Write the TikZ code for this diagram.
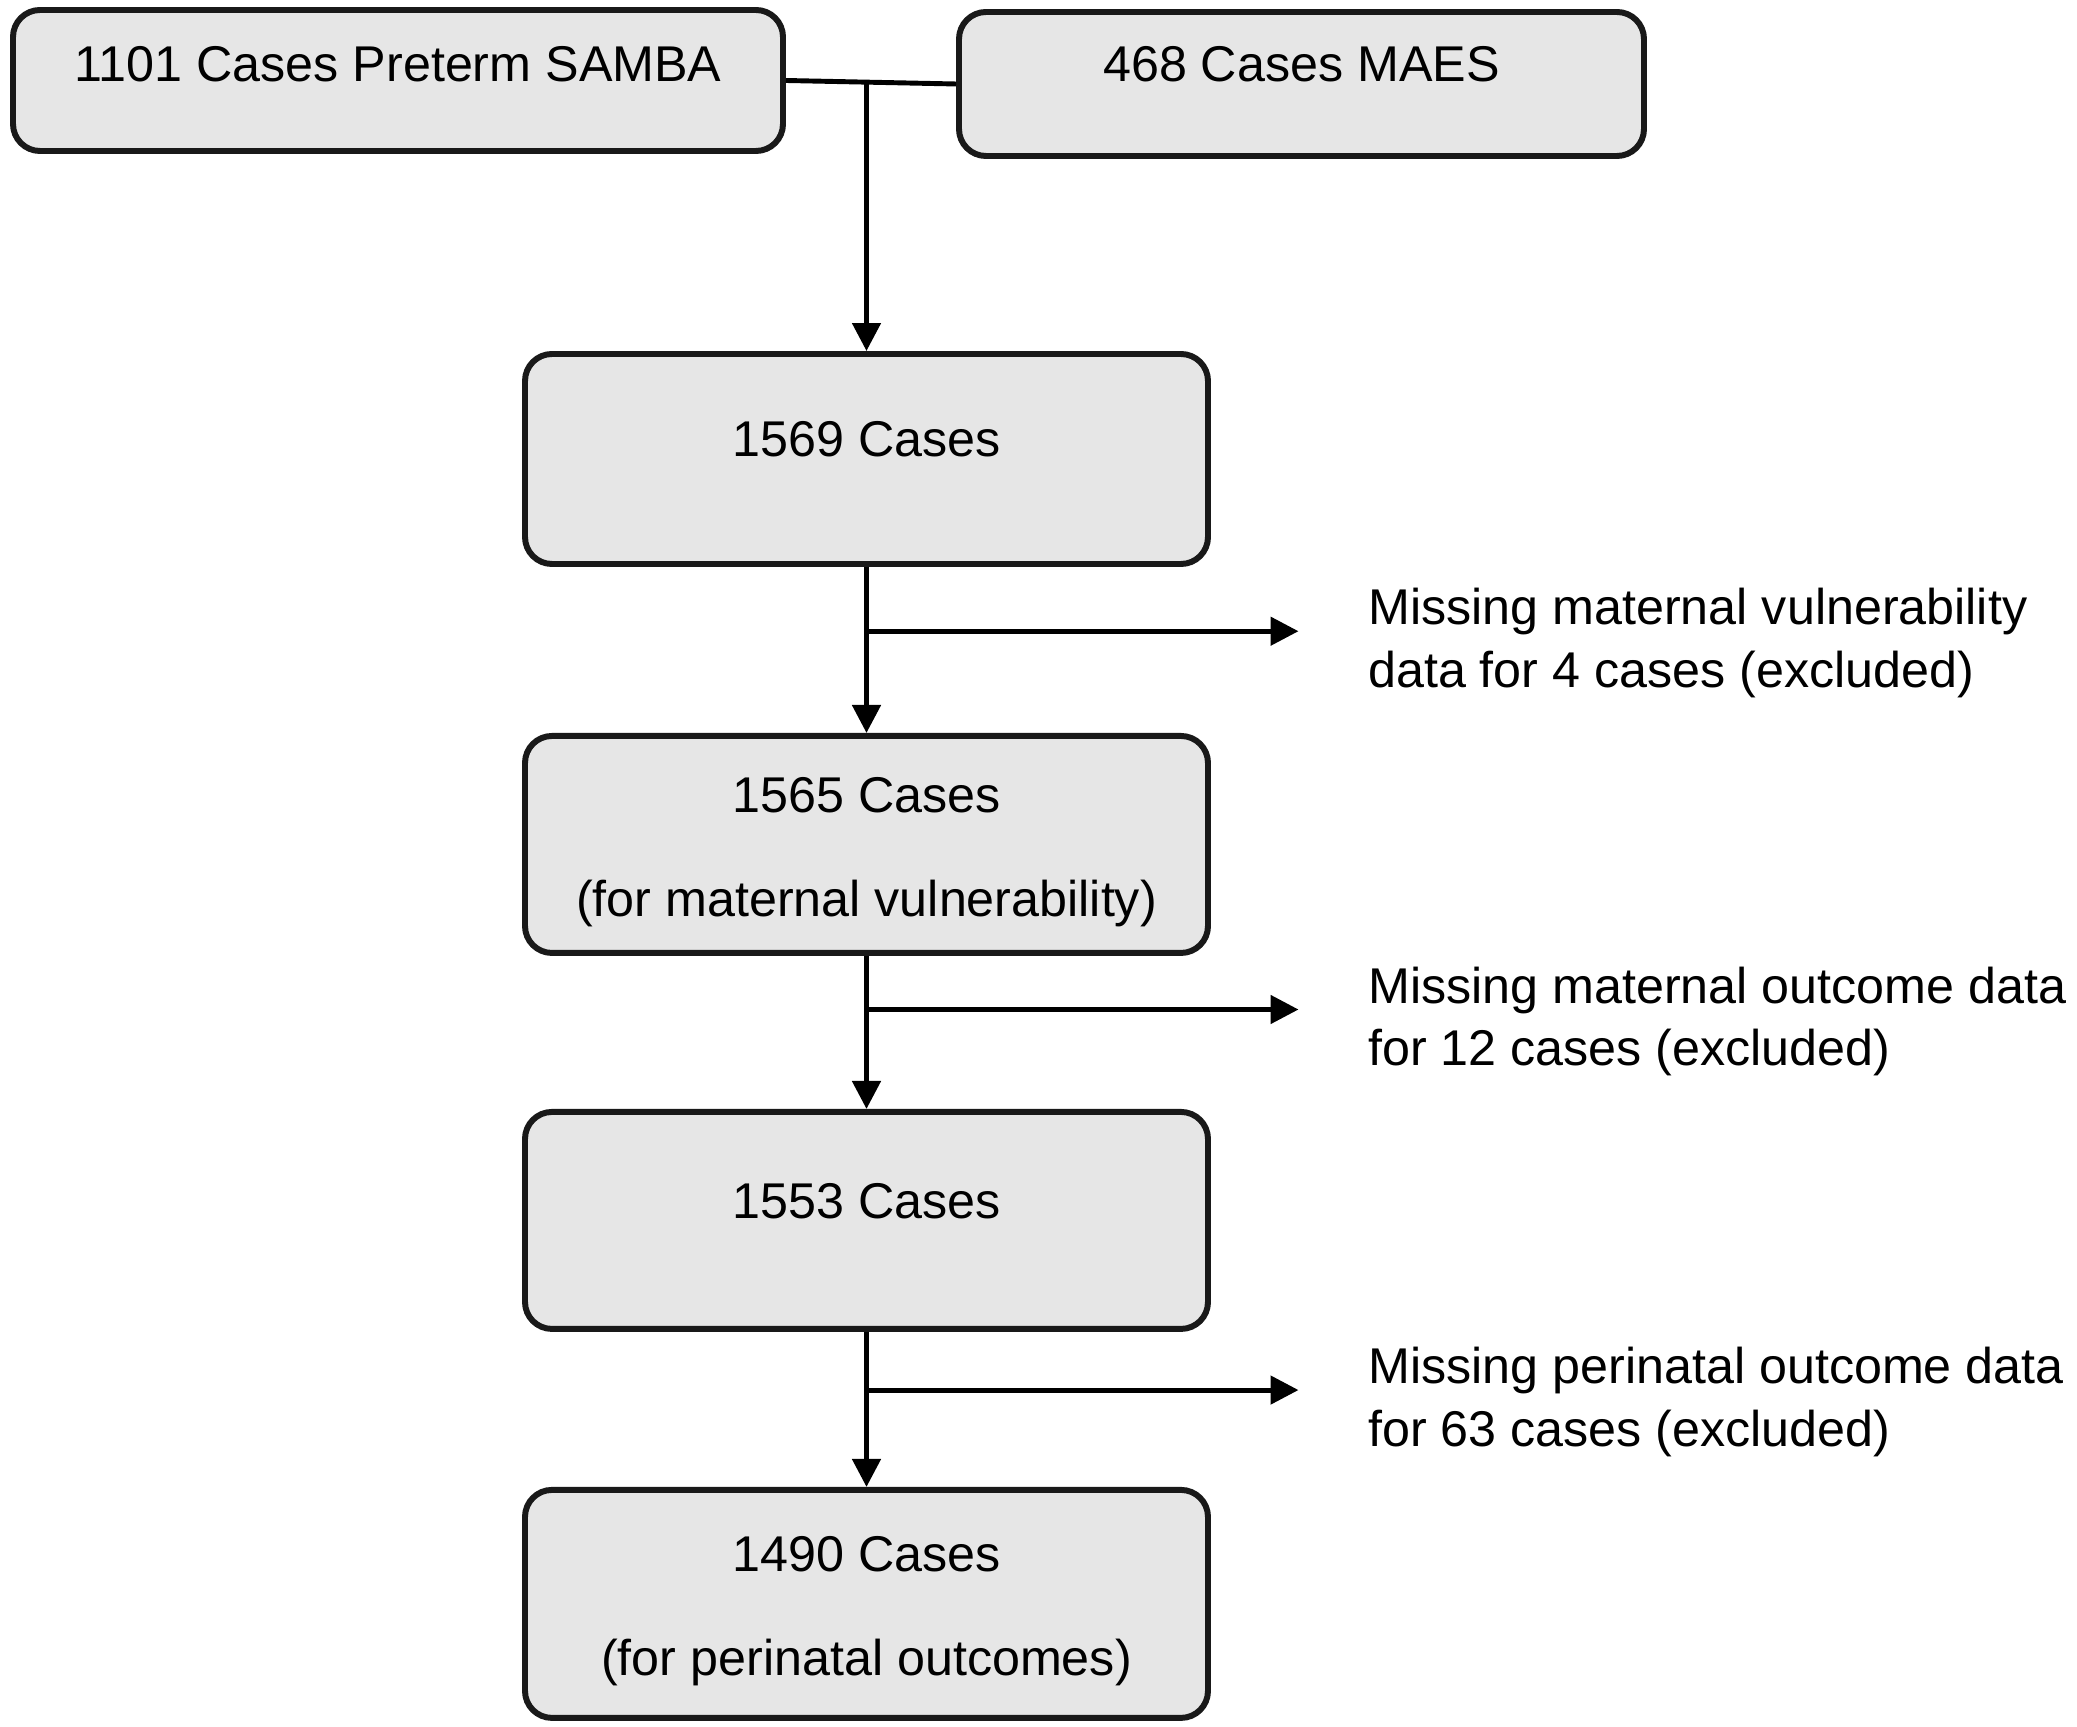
\documentclass[tikz,border=0pt]{standalone}
\usepackage{fontspec}
\setmainfont{Liberation Sans}
\usetikzlibrary{arrows.meta, positioning, calc}
\definecolor{boxgray}{RGB}{230,230,230}
\tikzset{
  casebox/.style={
    rectangle, rounded corners=0.27cm,
    draw=black!90, fill=boxgray, line width=1.7pt,
    align=center, font=\fontsize{14.3}{17.9}\selectfont,
    inner sep=0pt, minimum width=6.83cm
  },
  onebox/.style={casebox, text height=10.2pt, text depth=11.4pt},
  twobox/.style={casebox, text height=43.7pt},
  srcbox/.style={casebox, text height=10.2pt, text depth=9.6pt},
  notetext/.style={align=left, inner sep=0pt, font=\fontsize{14.3}{17.9}\selectfont},
  flowarrow/.style={-{Triangle[length=0.28cm, width=0.28cm]}, line width=1.4pt, black},
  flowline/.style={line width=1.4pt, black}
}

\begin{document}
\begin{tikzpicture}
    \useasboundingbox (0,0) rectangle (20.77,-17.27);
    % sources
    \node[srcbox, minimum width=7.70cm, minimum height=1.41cm] (samba) at (3.98,-0.805) {1101 Cases Preterm SAMBA};
    \node[srcbox, text depth=11.8pt, minimum width=6.85cm, minimum height=1.44cm] (maes) at (13.015,-0.84) {468 Cases MAES};
    % main chain
    \node[onebox, minimum height=2.10cm] (c1569) at (8.665,-4.59) {1569 Cases};
    \node[twobox, minimum height=2.17cm, below=1.66cm of c1569] (c1565) {1565 Cases\\[11.6pt](for maternal vulnerability)};
    \node[onebox, minimum height=2.17cm, below=1.53cm of c1565] (c1553) {1553 Cases};
    \node[twobox, minimum height=2.28cm, below=1.55cm of c1553] (c1490) {1490 Cases\\[11.6pt](for perinatal outcomes)};
    % merge
    \coordinate (join) at (c1569.north |- samba.east);
    \draw[flowline] (samba.east) -- (maes.west);
    \draw[flowarrow] (join) -- (c1569.north);
    \draw[flowarrow] (c1569.south) -- (c1565.north);
    \draw[flowarrow] (c1565.south) -- (c1553.north);
    \draw[flowarrow] (c1553.south) -- (c1490.north);
    % exclusions
    \coordinate (b1) at ($(c1569.south)!0.387!(c1565.north)$);
    \coordinate (b2) at ($(c1565.south)!0.35!(c1553.north)$);
    \coordinate (b3) at ($(c1553.south)!0.375!(c1490.north)$);
    \coordinate (e1) at ([xshift=4.32cm]b1);
    \coordinate (e2) at ([xshift=4.32cm]b2);
    \coordinate (e3) at ([xshift=4.32cm]b3);
    \draw[flowarrow] (b1) -- (e1);
    \draw[flowarrow] (b2) -- (e2);
    \draw[flowarrow] (b3) -- (e3);
    \node[notetext, right=0.69cm of e1, yshift=-0.12cm] (x1) {Missing maternal vulnerability\\data for 4 cases (excluded)};
    \node[notetext, right=0.69cm of e2, yshift=-0.12cm] (x2) {Missing maternal outcome data\\for 12 cases (excluded)};
    \node[notetext, right=0.69cm of e3, yshift=-0.12cm] (x3) {Missing perinatal outcome data\\for 63 cases (excluded)};
\end{tikzpicture}
\end{document}
